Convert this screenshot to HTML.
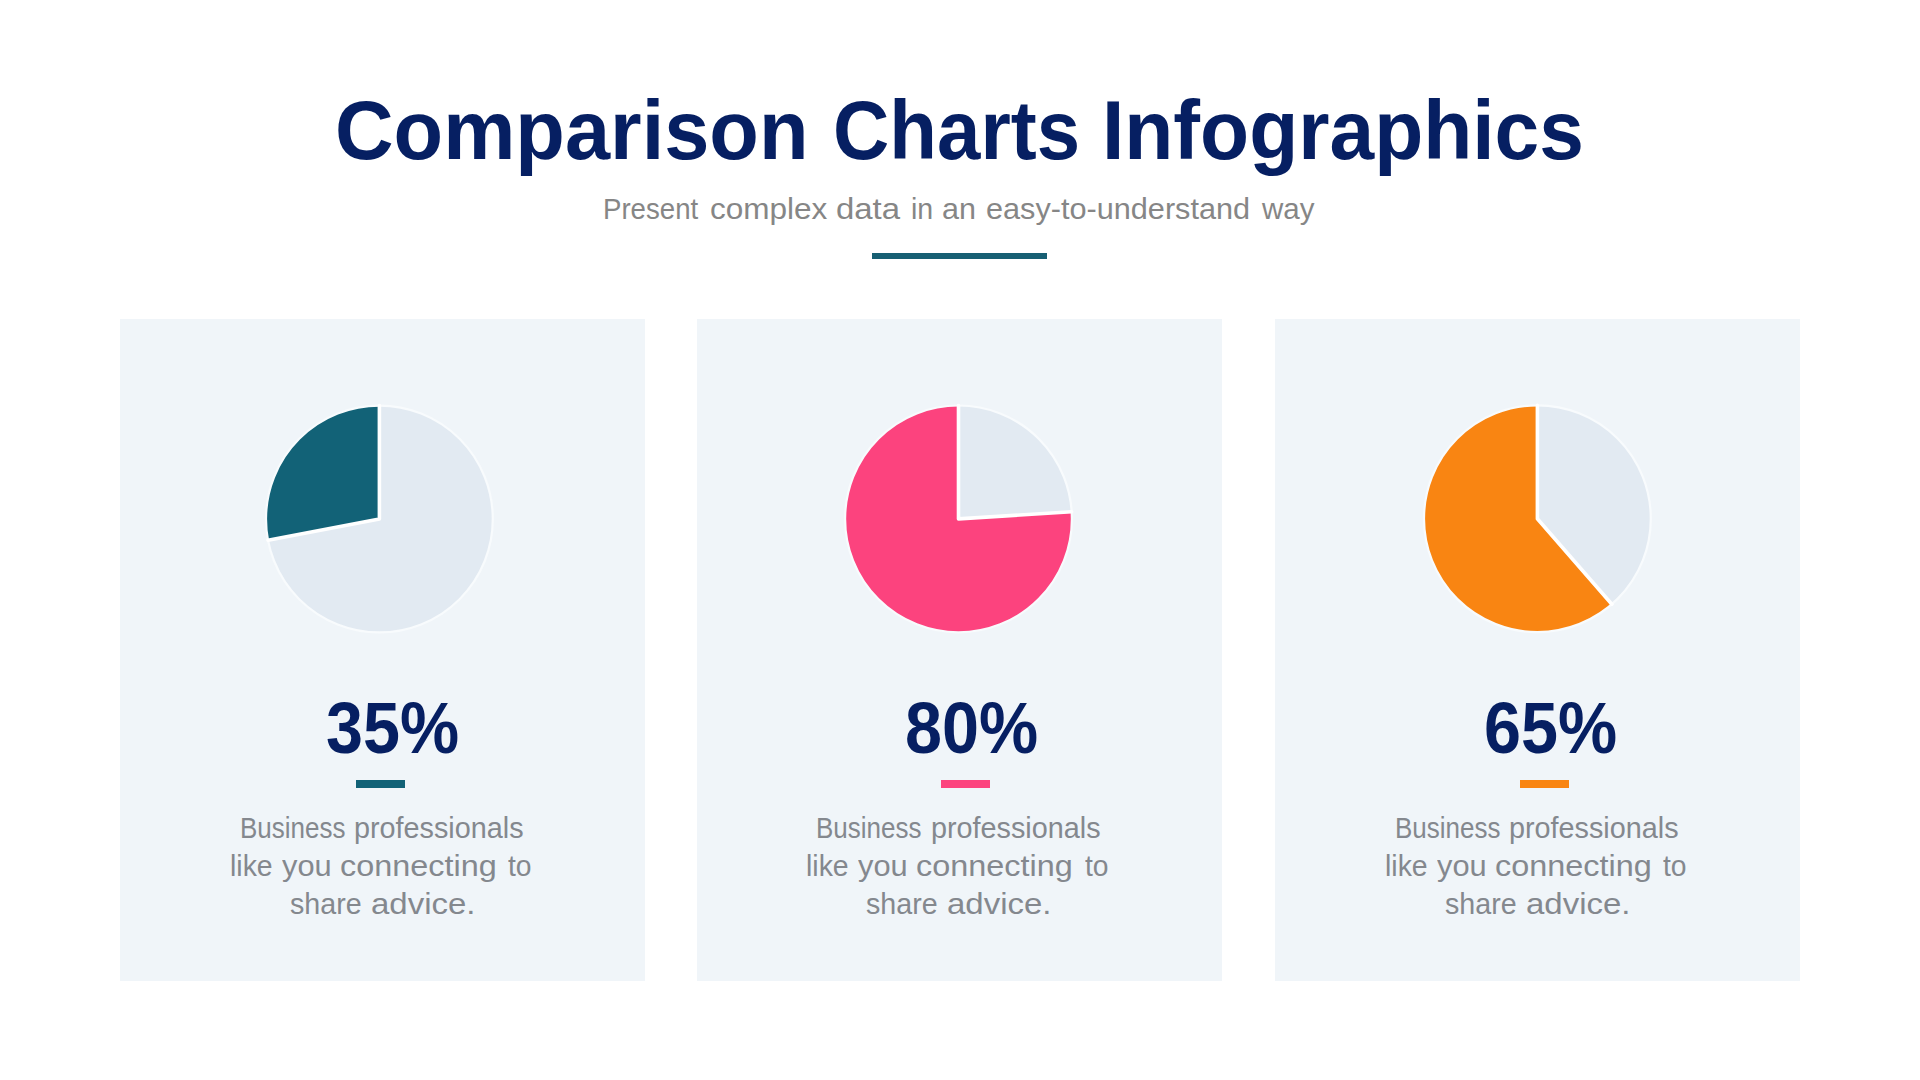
<!DOCTYPE html>
<html lang="en">
<head>
<meta charset="utf-8">
<title>Comparison Charts Infographics</title>
<style>
  html,body{margin:0;padding:0;}
  body{width:1920px;height:1080px;background:#ffffff;position:relative;overflow:hidden;
       font-family:"Liberation Sans",sans-serif;}
  .ln{position:absolute;left:0;width:100%;height:0;white-space:nowrap;}
  .ln span{position:absolute;top:0;display:inline-block;line-height:1;transform-origin:0 50%;}
  .title{font-size:83px;font-weight:700;color:#061f62;}
  .subtitle{font-size:29.8px;color:#868686;}
  .rule{position:absolute;left:872px;top:253px;width:175px;height:6px;background:#175f73;}
  .card{position:absolute;top:318.5px;width:525px;height:662px;background:#f0f5f9;}
  .card svg{position:absolute;left:0;top:0;}
  .pct{position:absolute;left:0;width:525px;top:368px;text-align:center;font-size:72px;font-weight:700;
       color:#061f62;line-height:82px;white-space:nowrap;transform:scaleX(0.924);transform-origin:50% 50%;}
  .bar{position:absolute;top:461.5px;width:49px;height:7.5px;}
  .desc{font-size:29.8px;color:#84888e;}
</style>
</head>
<body>
  <div class="ln title" style="top:88.64px"><span style="left:335.07px;transform:scaleX(0.9779)">Comparison</span> <span style="left:832.58px;transform:scaleX(0.9399)">Charts</span> <span style="left:1102.16px;transform:scaleX(0.9676)">Infographics</span></div>
  <div class="ln subtitle" style="top:194.27px"><span style="left:603.05px;transform:scaleX(0.9269)">Present</span> <span style="left:710.14px;transform:scaleX(1.0577)">complex</span> <span style="left:836.40px;transform:scaleX(1.1041)">data</span> <span style="left:910.88px;transform:scaleX(0.9582)">in</span> <span style="left:942.48px;transform:scaleX(1.0238)">an</span> <span style="left:985.57px;transform:scaleX(1.0285)">easy-to-understand</span> <span style="left:1261.89px;transform:scaleX(0.9891)">way</span></div>
  <div class="rule"></div>

  <div class="card" style="left:120px">
    <svg width="525" height="662" viewBox="0 0 525 662">
      <circle cx="259.40" cy="200.00" r="113.4" fill="#e2eaf2"/>
      <path d="M259.40 200.00L259.40 86.60A113.4 113.4 0 0 0 148.01 221.25Z" fill="#126277"/>
      <circle cx="259.40" cy="200.00" r="113.4" fill="none" stroke="#f8fbfd" stroke-width="2.2"/>
      <path d="M259.40 86.60L259.40 200.00L148.01 221.25" fill="none" stroke="#ffffff" stroke-width="3.6" stroke-linejoin="round" stroke-linecap="round"/>
    </svg>
    <div class="pct" style="left:9.5px">35%</div>
    <div class="bar" style="left:236px;background:#126277"></div>
    <div class="ln desc" style="top:494.87px"><span style="left:119.56px;transform:scaleX(0.8720)">Business</span> <span style="left:234.33px;transform:scaleX(0.9656)">professionals</span></div>
    <div class="ln desc" style="top:532.77px"><span style="left:110.09px;transform:scaleX(0.9540)">like</span> <span style="left:161.70px;transform:scaleX(1.0329)">you</span> <span style="left:219.71px;transform:scaleX(1.0872)">connecting</span> <span style="left:388.30px;transform:scaleX(0.9473)">to</span></div>
    <div class="ln desc" style="top:570.67px"><span style="left:169.70px;transform:scaleX(0.9613)">share</span> <span style="left:250.59px;transform:scaleX(1.1061)">advice.</span></div>
  </div>

  <div class="card" style="left:697px">
    <svg width="525" height="662" viewBox="0 0 525 662">
      <circle cx="261.50" cy="199.90" r="113.4" fill="#e2eaf2"/>
      <path d="M261.50 199.90L261.50 86.50A113.4 113.4 0 1 0 374.68 192.78Z" fill="#fc437e"/>
      <circle cx="261.50" cy="199.90" r="113.4" fill="none" stroke="#f8fbfd" stroke-width="2.2"/>
      <path d="M261.50 86.50L261.50 199.90L374.68 192.78" fill="none" stroke="#ffffff" stroke-width="3.6" stroke-linejoin="round" stroke-linecap="round"/>
    </svg>
    <div class="pct" style="left:11.5px">80%</div>
    <div class="bar" style="left:244px;background:#fc437e"></div>
    <div class="ln desc" style="top:494.87px"><span style="left:118.96px;transform:scaleX(0.8720)">Business</span> <span style="left:233.73px;transform:scaleX(0.9656)">professionals</span></div>
    <div class="ln desc" style="top:532.77px"><span style="left:109.49px;transform:scaleX(0.9540)">like</span> <span style="left:161.10px;transform:scaleX(1.0329)">you</span> <span style="left:219.11px;transform:scaleX(1.0872)">connecting</span> <span style="left:387.70px;transform:scaleX(0.9473)">to</span></div>
    <div class="ln desc" style="top:570.67px"><span style="left:169.10px;transform:scaleX(0.9613)">share</span> <span style="left:249.99px;transform:scaleX(1.1061)">advice.</span></div>
  </div>

  <div class="card" style="left:1275px">
    <svg width="525" height="662" viewBox="0 0 525 662">
      <circle cx="262.40" cy="199.70" r="113.4" fill="#e2eaf2"/>
      <path d="M262.40 199.70L262.40 86.30A113.4 113.4 0 1 0 336.86 285.23Z" fill="#f98512"/>
      <circle cx="262.40" cy="199.70" r="113.4" fill="none" stroke="#f8fbfd" stroke-width="2.2"/>
      <path d="M262.40 86.30L262.40 199.70L336.86 285.23" fill="none" stroke="#ffffff" stroke-width="3.6" stroke-linejoin="round" stroke-linecap="round"/>
    </svg>
    <div class="pct" style="left:13px">65%</div>
    <div class="bar" style="left:245px;background:#f98512"></div>
    <div class="ln desc" style="top:494.87px"><span style="left:119.56px;transform:scaleX(0.8720)">Business</span> <span style="left:234.33px;transform:scaleX(0.9656)">professionals</span></div>
    <div class="ln desc" style="top:532.77px"><span style="left:110.09px;transform:scaleX(0.9540)">like</span> <span style="left:161.70px;transform:scaleX(1.0329)">you</span> <span style="left:219.71px;transform:scaleX(1.0872)">connecting</span> <span style="left:388.30px;transform:scaleX(0.9473)">to</span></div>
    <div class="ln desc" style="top:570.67px"><span style="left:169.70px;transform:scaleX(0.9613)">share</span> <span style="left:250.59px;transform:scaleX(1.1061)">advice.</span></div>
  </div>
</body>
</html>
